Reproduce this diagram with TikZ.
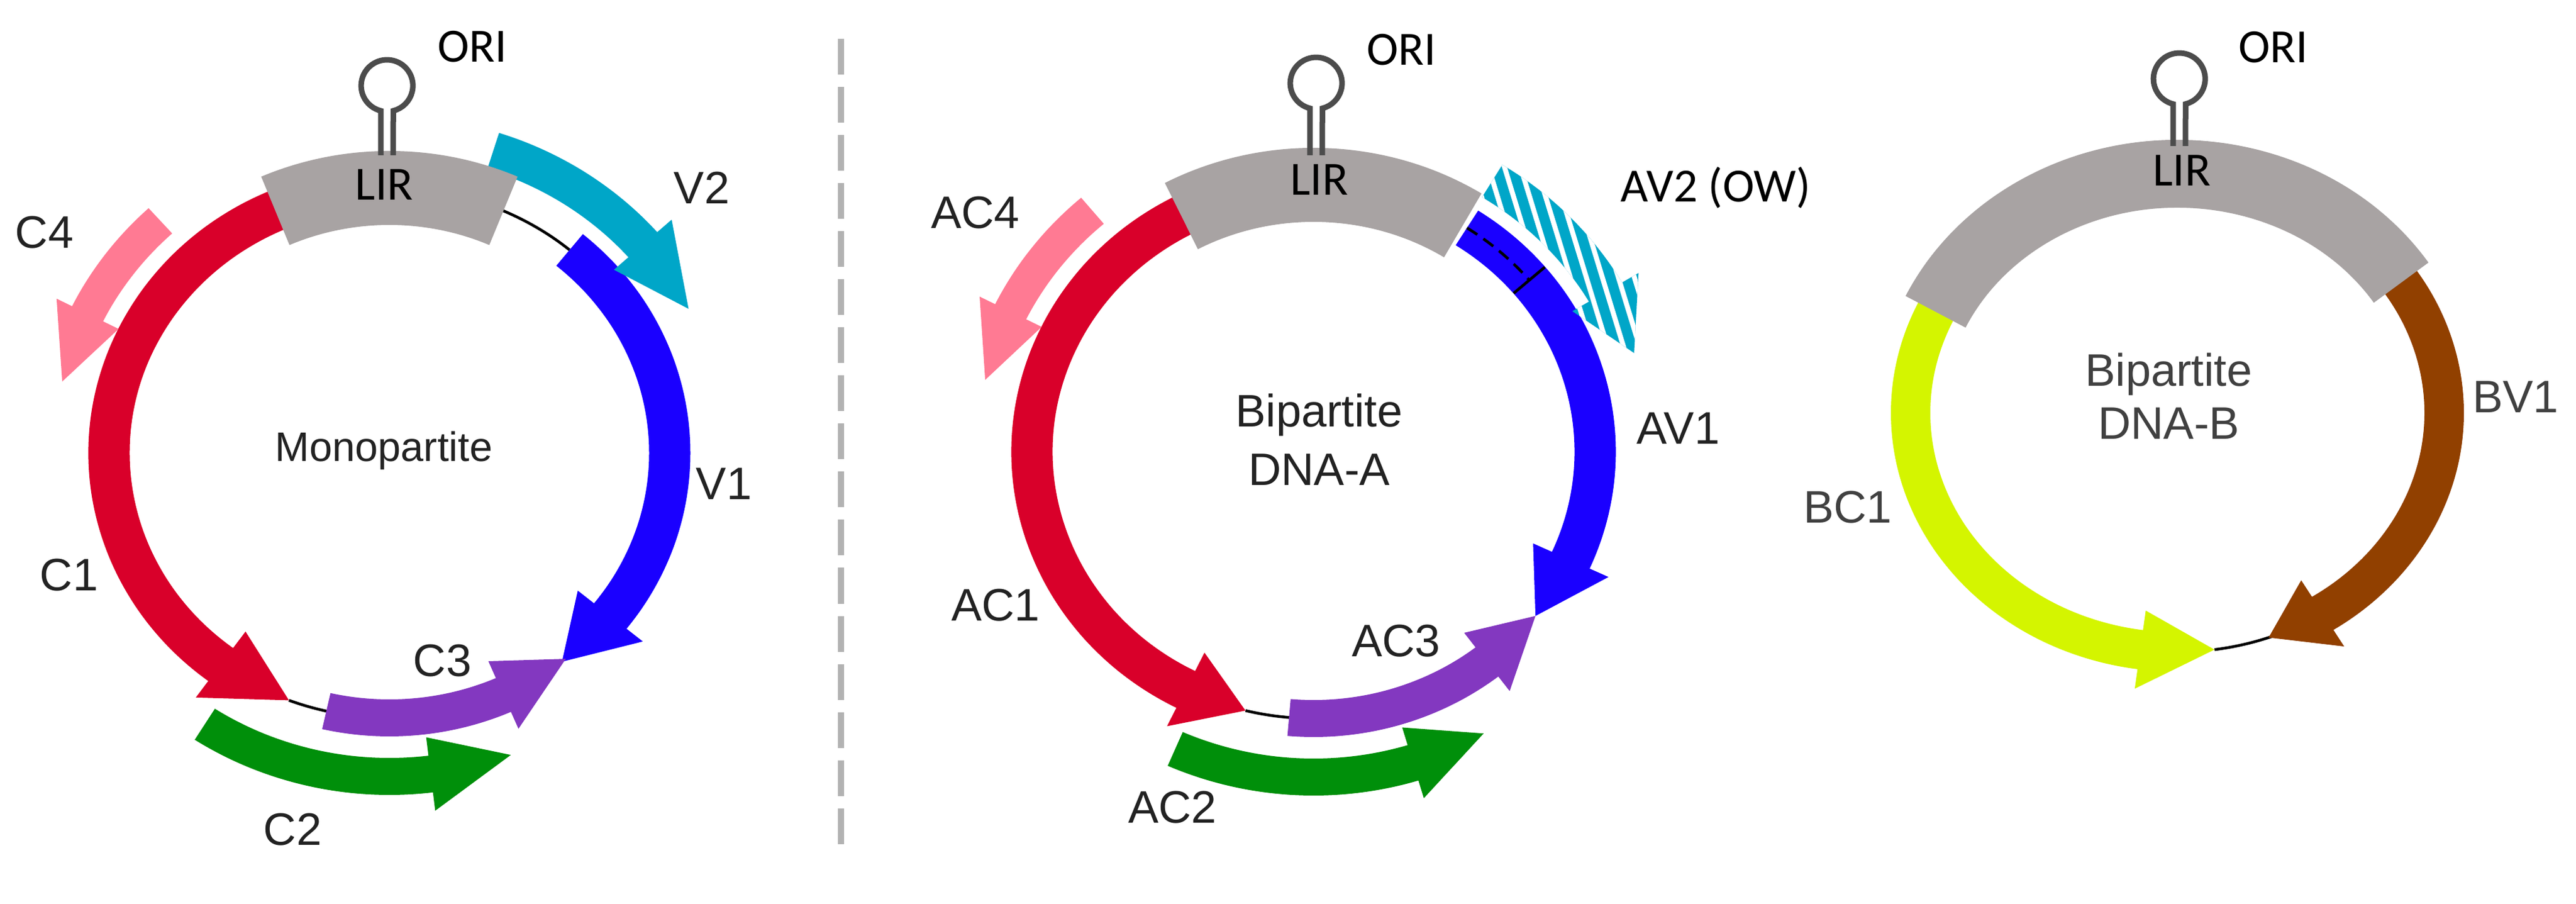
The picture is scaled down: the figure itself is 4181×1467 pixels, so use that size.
\documentclass[tikz,border=0pt]{standalone}
\usepackage{fontspec}
\newfontfamily\labfont{Liberation Sans}
\newfontfamily\calfont{Carlito}
\definecolor{cred}{HTML}{D9002A}
\definecolor{cpink}{HTML}{FF7A93}
\definecolor{ccyan}{HTML}{00A6C8}
\definecolor{cblue}{HTML}{1A00FF}
\definecolor{cpurple}{HTML}{8338C0}
\definecolor{cgreen}{HTML}{008F0A}
\definecolor{cgray}{HTML}{A8A3A3}
\definecolor{cbrown}{HTML}{914000}
\definecolor{cyg}{HTML}{D4F500}
\definecolor{ctxt}{HTML}{222222}
% #1 cx #2 cy #3 rx #4 ry #5 w #6 a1 #7 a2 #8 a3 #9 options
\newcommand\garc[9]{%
\path[#9,shift={(#1,#2)}] (#6:{#3+#5/2} and {#4+#5/2}) arc[start angle=#6,end angle=#7,x radius={#3+#5/2},y radius={#4+#5/2}]
 -- (#7:{#3+#5} and {#4+#5}) -- (#8:#3 and #4) -- (#7:{#3-#5} and {#4-#5}) -- (#7:{#3-#5/2} and {#4-#5/2})
 arc[start angle=#7,end angle=#6,x radius={#3-#5/2},y radius={#4-#5/2}] -- cycle;}
\newcommand\gline[7]{% cx cy rx ry a1 a2 options
\draw[#7,shift={(#1,#2)}] (#5:#3 and #4) arc[start angle=#5,end angle=#6,x radius=#3,y radius=#4];}
\newcommand\hairpin[3]{% x loopY baseY
\draw[hp] ({#1-10},#3) -- ({#1-10},{#2-40.8}) arc[start angle=256,end angle=-76,radius=42] -- ({#1+10},#3);}
\begin{document}
\begin{tikzpicture}[x=0.01cm,y=0.01cm,
  lab/.style={font=\labfont\fontsize{21}{23}\selectfont,text=ctxt,inner sep=0pt},
  cal/.style={font=\calfont\fontsize{22}{24}\selectfont,inner sep=0pt},
  calb/.style={font=\calfont\fontsize{22}{24}\selectfont,inner sep=0pt},
  thin/.style={line width=0.045cm,black},
  hp/.style={line width=0.09cm,draw=black!70},
  lir/.style={draw=cgray,line width=1.2cm}]
\useasboundingbox (0,0) rectangle (4181,1467);
\fill[white] (0,0) rectangle (4181,1467);
% separator
\draw[gray!60,line width=0.1cm,dash pattern=on 0.58cm off 0.2cm] (1365,1404) coordinate (s1) -- (1365,95) coordinate (s2);

% ---------- Panel 1 ----------
\gline{632}{732}{455}{430}{50}{67}{thin}
\gline{632}{732}{455}{430}{249}{258}{thin}
\garc{632}{732}{455}{430}{67}{50}{-38}{-52}{fill=cblue}
\garc{632}{732}{455}{430}{67}{112}{233}{249}{fill=cred}
\garc{632}{732}{455}{430}{60}{257}{294}{309}{fill=cpurple}
\garc{632}{732}{545}{515}{56}{133}{154}{167}{fill=cpink}
\garc{632}{732}{545}{515}{62}{72}{41}{27}{fill=ccyan}
\garc{632}{732}{550}{525}{60}{237}{277}{291}{fill=cgreen}
\gline{632}{732}{455}{430}{66}{114}{lir}
\hairpin{628}{1328}{1215}
\node[calb] (ori1) at (767,1391) {ORI};
\node[cal] (lir1) at (624,1167) {LIR};
\node[lab,font=\labfont\fontsize{19}{21}\selectfont] (mono) at (623,736) {Monopartite};
\node[lab] (v2) at (1139,1162) {V2};
\node[lab] (c4) at (72,1090) {C4};
\node[lab] (v1) at (1175,682) {V1};
\node[lab] (c1) at (112,534) {C1};
\node[lab] (c3) at (718,395) {C3};
\node[lab] (c2) at (475,121) {C2};

% ---------- Panel 2 ----------
\gline{2132}{734}{457}{433}{256}{266}{thin}
\garc{2132}{734}{457}{433}{67}{57}{-24}{-38}{fill=cblue}
\garc{2132}{734}{457}{433}{67}{116}{243}{256}{fill=cred}
\garc{2132}{734}{457}{433}{60}{265}{308}{322}{fill=cpurple}
\garc{2132}{734}{547}{518}{56}{131}{154}{167}{fill=cpink}
\garc{2132}{734}{552}{528}{60}{246}{287}{300}{fill=cgreen}
\begin{scope}
\garc{2132}{734}{547}{518}{62}{58}{30}{18}{clip}
\fill[ccyan] (2350,800) rectangle (2800,1260);
\foreach \i in {0,...,26} \draw[white,line width=0.08cm] ({2150+\i*26},1300) -- ++(150,-490);
\end{scope}
\gline{2132}{734}{457}{433}{57}{40}{thin,dash pattern=on 0.2cm off 0.12cm}
\draw[thin,shift={(2132,734)}] (40:424 and 400) -- (40:490 and 466);
\gline{2132}{734}{457}{433}{58}{118}{lir}
\hairpin{2136}{1332}{1215}
\node[calb] (ori2) at (2275,1386) {ORI};
\node[cal] (lir2) at (2141,1175) {LIR};
\node[lab] (bip2) at (2141,794) {Bipartite};
\node[lab] (dnaa) at (2141,705) {DNA-A};
\node[lab] (ac4) at (1583,1122) {AC4};
\node[lab] (av1) at (2724,772) {AV1};
\node[lab] (ac1) at (1616,485) {AC1};
\node[lab] (ac3) at (2266,427) {AC3};
\node[lab] (ac2) at (1903,157) {AC2};
\node[cal] (av2) at (2785,1162) {AV2 (OW)};

% ---------- Panel 3 ----------
\gline{3534}{797}{433}{388}{278}{291}{thin}
\garc{3534}{797}{433}{388}{64}{35}{-57}{-70}{fill=cbrown}
\garc{3534}{797}{433}{388}{64}{153}{262}{278}{fill=cyg}
\gline{3534}{797}{433}{388}{33}{155}{lir,line width=1.1cm}
\hairpin{3537}{1339}{1230}
\node[calb] (ori3) at (3690,1390) {ORI};
\node[cal] (lir3) at (3541,1190) {LIR};
\node[lab,text=black!75] (bip3) at (3520,860) {Bipartite};
\node[lab,text=black!75] (dnab) at (3520,780) {DNA-B};
\node[lab,text=black!75] (bv1) at (4083,823) {BV1};
\node[lab,text=black!75] (bc1) at (2999,644) {BC1};
\end{tikzpicture}
\end{document}
